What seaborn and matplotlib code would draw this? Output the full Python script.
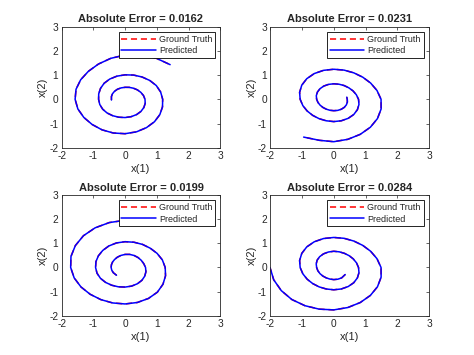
import matplotlib
matplotlib.use("Agg")
import matplotlib.pyplot as plt
import seaborn as sns

# Absolute error shown in each panel title
errors = [0.0162, 0.0231, 0.0199, 0.0284]

# Trajectories (x(1), x(2)), inner end first
p1_x = [-0.43, -0.43, -0.397, -0.332, -0.24, -0.126, 0.0, 0.132, 0.264, 0.389, 0.496, 0.58,
        0.628, 0.634, 0.591, 0.50, 0.364, 0.192, 0.0, -0.198, -0.391, -0.566, -0.706, -0.798,
        -0.835, -0.831, -0.775, -0.661, -0.483, -0.256, 0.0, 0.268, 0.533, 0.778, 0.983, 1.121,
        1.185, 1.179, 1.095, 0.926, 0.675, 0.36, 0.0, -0.373, -0.728, -1.039, -1.299, -1.488,
        -1.575, -1.546, -1.399, -1.156, -0.84, -0.453, 0.0, 0.492, 0.98, 1.42]
p1_y = [-0.03, 0.115, 0.229, 0.332, 0.416, 0.471, 0.495, 0.493, 0.457, 0.389, 0.287, 0.155,
        0.0, -0.17, -0.342, -0.50, -0.63, -0.717, -0.753, -0.74, -0.677, -0.566, -0.408, -0.214,
        0.0, 0.223, 0.448, 0.661, 0.836, 0.956, 1.01, 1.0, 0.922, 0.778, 0.568, 0.30,
        0.0, -0.316, -0.633, -0.926, -1.169, -1.343, -1.42, -1.391, -1.26, -1.039, -0.75, -0.399,
        0.0, 0.414, 0.808, 1.156, 1.455, 1.69, 1.83, 1.835, 1.697, 1.43]

p2_x = [0.41, 0.425, 0.428, 0.397, 0.332, 0.237, 0.123, 0.0, -0.121, -0.235, -0.339, -0.428,
        -0.497, -0.54, -0.551, -0.516, -0.436, -0.316, -0.165, 0.0, 0.167, 0.327, 0.474, 0.605,
        0.71, 0.78, 0.794, 0.744, 0.629, 0.454, 0.238, 0.0, -0.238, -0.462, -0.664, -0.838,
        -0.975, -1.06, -1.077, -1.009, -0.851, -0.614, -0.321, 0.0, 0.323, 0.631, 0.913, 1.161,
        1.361, 1.49, 1.492, 1.377, 1.153, 0.835, 0.443, 0.0, -0.454, -0.95]
p2_y = [0.09, 0.0, -0.115, -0.229, -0.332, -0.411, -0.458, -0.47, -0.453, -0.408, -0.339, -0.247,
        -0.133, 0.0, 0.148, 0.298, 0.436, 0.546, 0.616, 0.64, 0.622, 0.567, 0.474, 0.349,
        0.19, 0.0, -0.213, -0.43, -0.629, -0.786, -0.886, -0.92, -0.887, -0.80, -0.664, -0.484,
        -0.261, 0.0, 0.289, 0.583, 0.851, 1.063, 1.196, 1.24, 1.205, 1.092, 0.913, 0.671,
        0.365, 0.0, -0.40, -0.795, -1.153, -1.446, -1.652, -1.75, -1.693, -1.56]

p3_x = [-0.27, -0.371, -0.419, -0.44, -0.43, -0.394, -0.331, -0.245, -0.133, 0.0, 0.145, 0.286,
        0.41, 0.511, 0.589, 0.645, 0.657, 0.619, 0.53, 0.388, 0.206, 0.0, -0.214, -0.423,
        -0.615, -0.775, -0.884, -0.93, -0.918, -0.84, -0.704, -0.513, -0.272, 0.0, 0.28, 0.55,
        0.795, 1.009, 1.174, 1.265, 1.275, 1.195, 1.018, 0.738, 0.387, 0.0, -0.392, -0.765,
        -1.103, -1.39, -1.604, -1.715, -1.705, -1.567, -1.312, -0.945, -0.497, 0.0, 0.513]
p3_y = [-0.32, -0.214, -0.112, 0.0, 0.115, 0.228, 0.331, 0.424, 0.497, 0.54, 0.541, 0.495,
        0.41, 0.295, 0.158, 0.0, -0.176, -0.358, -0.53, -0.671, -0.768, -0.808, -0.797, -0.732,
        -0.615, -0.448, -0.237, 0.0, 0.246, 0.485, 0.704, 0.888, 1.014, 1.065, 1.043, 0.953,
        0.795, 0.583, 0.315, 0.0, -0.342, -0.69, -1.018, -1.277, -1.444, -1.505, -1.463, -1.325,
        -1.103, -0.803, -0.43, 0.0, 0.457, 0.905, 1.312, 1.637, 1.855, 1.95, 1.913]

p4_x = [0.36, 0.248, 0.129, 0.0, -0.128, -0.245, -0.349, -0.436, -0.502, -0.54, -0.554, -0.524,
        -0.446, -0.325, -0.171, 0.0, 0.173, 0.337, 0.486, 0.614, 0.716, 0.78, 0.794, 0.744,
        0.629, 0.454, 0.238, 0.0, -0.238, -0.462, -0.664, -0.838, -0.975, -1.06, -1.077, -1.009,
        -0.851, -0.614, -0.321, 0.0, 0.323, 0.631, 0.913, 1.161, 1.361, 1.49, 1.492, 1.377,
        1.153, 0.835, 0.443, 0.0, -0.461, -0.91, -1.322, -1.654, -1.893, -2.01]
p4_y = [-0.29, -0.429, -0.483, -0.50, -0.476, -0.424, -0.349, -0.252, -0.135, 0.0, 0.149, 0.303,
        0.446, 0.563, 0.639, 0.67, 0.647, 0.584, 0.486, 0.355, 0.192, 0.0, -0.213, -0.43,
        -0.629, -0.786, -0.886, -0.92, -0.887, -0.80, -0.664, -0.484, -0.261, 0.0, 0.289, 0.583,
        0.851, 1.063, 1.196, 1.24, 1.205, 1.092, 0.913, 0.671, 0.365, 0.0, -0.40, -0.795,
        -1.153, -1.446, -1.652, -1.75, -1.719, -1.576, -1.322, -0.955, -0.508, 0.0]

ticks = [-2, -1, 0, 1, 2, 3]


def main():
    sns.set_style("white")
    plt.rcParams["font.family"] = ["Liberation Sans", "DejaVu Sans"]
    plt.rcParams["axes.unicode_minus"] = False

    fig = plt.figure(figsize=(4.74, 3.55), dpi=100)
    # MATLAB default subplot(2,2,k) positions
    positions = [
        [0.13, 0.5838, 0.3347, 0.3412],
        [0.5703, 0.5838, 0.3347, 0.3412],
        [0.13, 0.11, 0.3347, 0.3412],
        [0.5703, 0.11, 0.3347, 0.3412],
    ]
    panels = [(p1_x, p1_y), (p2_x, p2_y), (p3_x, p3_y), (p4_x, p4_y)]

    for pos, (xs, ys), err in zip(positions, panels, errors):
        ax = fig.add_axes(pos)
        sns.lineplot(x=xs, y=ys, sort=False, estimator=None, color="red",
                     linestyle=(0, (4, 2.5)), linewidth=1.1, label="Ground Truth", ax=ax)
        sns.lineplot(x=xs, y=ys, sort=False, estimator=None, color="blue",
                     linewidth=1.1, label="Predicted", ax=ax)

        ax.set_xlim(-2, 3)
        ax.set_ylim(-2, 3)
        ax.set_xticks(ticks)
        ax.set_yticks(ticks)
        ax.tick_params(direction="in", top=True, right=True, length=2.5, width=0.5,
                       labelsize=7.3, colors="#262626", pad=2.5)
        for side in ax.spines.values():
            side.set_color("#262626")
            side.set_linewidth(0.6)

        ax.set_title(f"Absolute Error = {err}", fontsize=8, fontweight="bold", pad=3)
        ax.set_xlabel("x(1)", fontsize=8, color="#262626", labelpad=2)
        ax.set_ylabel("x(2)", fontsize=8, color="#262626", labelpad=1)

        leg = ax.legend(loc="upper right", fontsize=6.5, handlelength=3.8,
                        handletextpad=0.35, borderpad=0.3, labelspacing=0.3,
                        borderaxespad=0.6, fancybox=False, framealpha=1,
                        edgecolor="black")
        leg.get_frame().set_linewidth(0.6)

    fig.savefig("out.png", dpi=100)


if __name__ == "__main__":
    main()
